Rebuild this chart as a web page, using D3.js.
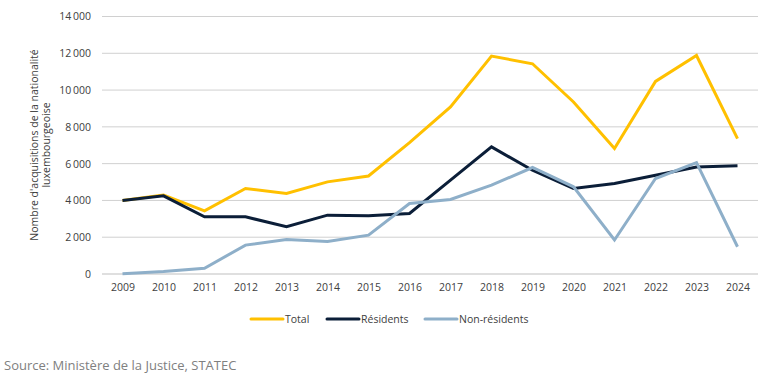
<!DOCTYPE html>
<html><head><meta charset="utf-8">
<script src="https://cdn.jsdelivr.net/npm/d3@7"></script>
<style>
body{margin:0;background:#fff;}
text{font-family:"Open Sans",sans-serif;}
</style></head>
<body>
<svg id="c" width="774" height="380"></svg>
<script>
const years = ["2009","2010","2011","2012","2013","2014","2015","2016","2017","2018","2019","2020","2021","2022","2023","2024"];
const total = [4000,4290,3430,4650,4380,5010,5330,7140,9080,11850,11430,9350,6820,10470,11880,7360];
const residents = [3990,4250,3110,3110,2570,3200,3170,3290,5100,6910,5640,4650,4920,5370,5820,5880];
const nonResidents = [20,130,310,1570,1880,1770,2110,3830,4050,4830,5790,4740,1850,5190,6060,1480];
const yTicks = [0,2000,4000,6000,8000,10000,12000,14000];
const seriesNames = ["Total","Résidents","Non-résidents"];
const seriesColors = ["#FFC000","#0B1E38","#8EAFC9"];
const seriesData = [total, residents, nonResidents];

const svg = d3.select("#c");
const x = d3.scalePoint().domain(years).range([122.5,737.5]);
const y = d3.scaleLinear().domain([0,14000]).range([274,16.5]);
const fmt = v => d3.format(",")(v).replace(/,/g,"\u2009");

// gridlines
svg.append("g").selectAll("line").data(yTicks).join("line")
  .attr("x1",102).attr("x2",758)
  .attr("y1",d=>y(d)).attr("y2",d=>y(d))
  .attr("stroke",d=>d===0?"#bfbfbf":"#d0d0d0").attr("stroke-width",1);

// y axis labels
const yAxis = d3.axisLeft(y).tickValues(yTicks).tickSize(0).tickPadding(0).tickFormat(fmt);
const ya = svg.append("g").attr("transform","translate(91,0)").call(yAxis);
ya.select(".domain").remove();
ya.selectAll("text").attr("font-size",10.5).attr("fill","#404040").attr("font-family","'Open Sans',sans-serif");

// x axis labels
const xAxis = d3.axisBottom(x).tickSize(0).tickPadding(0);
const xa = svg.append("g").attr("transform","translate(0,284)").call(xAxis);
xa.select(".domain").remove();
xa.selectAll("text").attr("font-size",10.5).attr("fill","#404040").attr("font-family","'Open Sans',sans-serif");

// y title
const yt = svg.append("text").attr("transform","translate(38,145) rotate(-90)")
  .attr("text-anchor","middle").attr("font-size",10.5).attr("fill","#404040");
yt.append("tspan").attr("x",0).attr("dy",0).text("Nombre d'acquisitions de la nationalité");
yt.append("tspan").attr("x",0).attr("dy",12).text("luxembourgeoise");

// lines
const line = d3.line().x((d,i)=>x(years[i])).y(d=>y(d));
seriesData.forEach((s,k)=>{
  svg.append("path").datum(s).attr("d",line).attr("fill","none")
    .attr("stroke",seriesColors[k]).attr("stroke-width",3).attr("stroke-linejoin","miter");
});

// legend
const legX = [250,326,424];
seriesNames.forEach((n,k)=>{
  const g = svg.append("g").attr("transform",`translate(${legX[k]},319)`);
  g.append("line").attr("x1",1).attr("x2",33).attr("y1",0).attr("y2",0)
    .attr("stroke",seriesColors[k]).attr("stroke-width",3).attr("stroke-linecap","round");
  g.append("text").attr("x",35).attr("y",4).attr("font-size",10.5).attr("fill","#404040").text(n);
});

// source
svg.append("text").attr("x",4).attr("y",370).attr("font-size",13).attr("fill","#808080")
  .text("Source: Ministère de la Justice, STATEC");
</script>
</body></html>
